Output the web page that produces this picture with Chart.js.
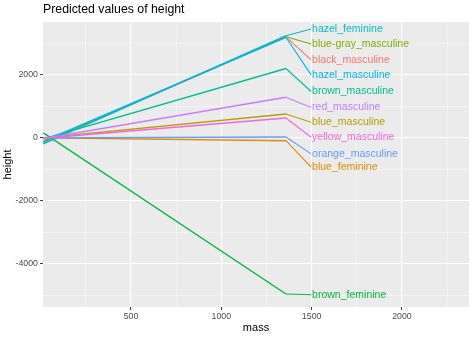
<!DOCTYPE html>
<html>
<head>
<meta charset="utf-8">
<script src="https://cdn.jsdelivr.net/npm/chart.js@4/dist/chart.umd.min.js"></script>
<style>
  html, body { margin: 0; padding: 0; background: #fff; }
  #wrap { width: 474px; height: 338px; }
</style>
</head>
<body>
<div id="wrap"><canvas id="mainChart" width="474" height="338"></canvas></div>
<script>
// groups (eye colour x gender) and their predicted heights at the two ends of the mass range
const groups = ['black_masculine', 'blue_feminine', 'blue_masculine', 'blue-gray_masculine',
    'brown_feminine', 'brown_masculine', 'hazel_feminine', 'hazel_masculine',
    'orange_masculine', 'red_masculine', 'yellow_masculine'];
const massRange = [15, 1358];
const startHeights = [-150, 0, 0, -145, 160, -30, -190, -100, 0, -20, -10];
const endHeights = [3205, -90, 757, 3210, -4950, 2200, 3240, 3190, 30, 1290, 630];
// where the repelled labels sit (in data units)
const labelMass = 1497;
const labelHeights = [2474, -929, 493, 2979, -4973, 1472, 3453, 2000, -506, 967, 19];
const colors = ['#F8766D', '#DE8C00', '#B79F00', '#7CAE00', '#00BA38', '#00C08B',
    '#00BFC4', '#00B4F0', '#619CFF', '#C77CFF', '#F564E3'];

const xTicks = [250, 500, 750, 1000, 1250, 1500, 1750, 2000, 2250];
const xTickLabels = [500, 1000, 1500, 2000];
const yTicks = [-5000, -4000, -3000, -2000, -1000, 0, 1000, 2000, 3000];
const yTickLabels = [-4000, -2000, 0, 2000];

const FONT = '"Liberation Sans", Arial, Helvetica, sans-serif';

const datasets = groups.map((g, i) => ({
    label: g,
    data: [{ x: massRange[0], y: startHeights[i] }, { x: massRange[1], y: endHeights[i] }],
    borderColor: colors[i],
    borderWidth: 1.4,
    pointRadius: 0,
    fill: false,
    order: groups.length - i
}));

const ggPlugin = {
    id: 'gg',
    beforeDraw(chart) {
        const { ctx, chartArea: a } = chart;
        ctx.save();
        ctx.fillStyle = '#EBEBEB';
        ctx.fillRect(a.left, a.top, a.right - a.left, a.bottom - a.top);
        ctx.restore();
    },
    afterDatasetsDraw(chart) {
        const { ctx, chartArea: a, scales: { x, y } } = chart;
        ctx.save();
        // label segments + text
        groups.forEach((g, i) => {
            const x0 = x.getPixelForValue(massRange[1]);
            const y0 = y.getPixelForValue(endHeights[i]);
            const x1 = x.getPixelForValue(labelMass);
            const y1 = y.getPixelForValue(labelHeights[i]);
            ctx.strokeStyle = colors[i];
            ctx.lineWidth = 1.1;
            ctx.beginPath();
            ctx.moveTo(x0, y0);
            ctx.lineTo(x1, y1);
            ctx.stroke();
            ctx.fillStyle = colors[i];
            ctx.font = '10.5px ' + FONT;
            ctx.textBaseline = 'middle';
            ctx.textAlign = 'left';
            ctx.fillText(g, x1 + 1, y1);
        });
        // title and axis titles
        ctx.fillStyle = '#000';
        ctx.font = '12.3px ' + FONT;
        ctx.textAlign = 'left';
        ctx.fillText('Predicted values of height', a.left, 10);
        ctx.font = '11px ' + FONT;
        ctx.textAlign = 'center';
        ctx.fillText('mass', (a.left + a.right) / 2, 328);
        ctx.translate(8, (a.top + a.bottom) / 2);
        ctx.rotate(-Math.PI / 2);
        ctx.fillText('height', 0, 0);
        ctx.restore();
    }
};

const gridOpts = (isMajor) => ({
    color: c => isMajor(c.tick.value) ? '#FFFFFF' : 'rgba(255,255,255,0.75)',
    lineWidth: c => isMajor(c.tick.value) ? 1.1 : 0.55,
    tickColor: c => isMajor(c.tick.value) ? '#333333' : 'rgba(0,0,0,0)',
    tickLength: 3,
    tickWidth: 1
});

new Chart(document.getElementById('mainChart').getContext('2d'), {
    type: 'line',
    data: { datasets: datasets },
    options: {
        responsive: false,
        animation: false,
        devicePixelRatio: 1,
        layout: { padding: { top: 22, right: 5, left: 0, bottom: 0 } },
        plugins: { legend: { display: false }, title: { display: false }, tooltip: { enabled: false } },
        scales: {
            x: {
                type: 'linear',
                min: 13,
                max: 2371,
                afterBuildTicks: s => { s.ticks = xTicks.map(v => ({ value: v })); },
                afterFit: s => { s.height = 31; },
                grid: gridOpts(v => xTickLabels.includes(v)),
                border: { display: false },
                ticks: {
                    autoSkip: false,
                    maxRotation: 0,
                    padding: 1,
                    color: '#4D4D4D',
                    font: { family: FONT, size: 8.8 },
                    callback: v => xTickLabels.includes(v) ? String(v) : ''
                }
            },
            y: {
                type: 'linear',
                min: -5362,
                max: 3675,
                afterBuildTicks: s => { s.ticks = yTicks.map(v => ({ value: v })); },
                afterFit: s => { s.width = 43; },
                grid: gridOpts(v => yTickLabels.includes(v)),
                border: { display: false },
                ticks: {
                    autoSkip: false,
                    padding: 2,
                    color: '#4D4D4D',
                    font: { family: FONT, size: 8.8 },
                    callback: v => yTickLabels.includes(v) ? String(v) : ''
                }
            }
        }
    },
    plugins: [ggPlugin]
});
</script>
</body>
</html>
